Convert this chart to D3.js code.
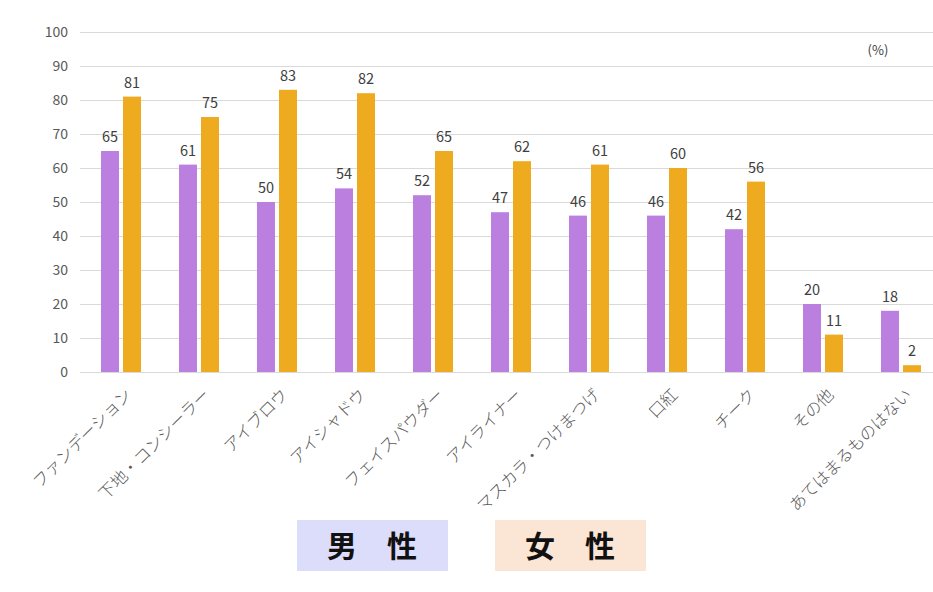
<!DOCTYPE html>
<html>
<head>
<meta charset="utf-8">
<script src="https://cdn.jsdelivr.net/npm/d3@7"></script>
<style>
  body { margin: 0; background: #fff; }
  svg { display: block; font-family: "Noto Sans CJK JP", "Noto Sans", sans-serif; }
</style>
</head>
<body>
<svg></svg>
<script>
// categories and values
const categories = ["ファンデーション", "下地・コンシーラー", "アイブロウ", "アイシャドウ", "フェイスパウダー",
    "アイライナー", "マスカラ・つけまつげ", "口紅", "チーク", "その他", "あてはまるものはない"];
const maleValues = [65, 61, 50, 54, 52, 47, 46, 46, 42, 20, 18];
const femaleValues = [81, 75, 83, 82, 65, 62, 61, 60, 56, 11, 2];
const yTicks = [0, 10, 20, 30, 40, 50, 60, 70, 80, 90, 100];
const legendLabels = ["男　性", "女　性"];

function main() {
    const canvasWidth = 933;
    const canvasHeight = 592;
    // plot area
    const left = 82, right = 940;
    const top = 32, bottom = 372;

    const maleColor = "#BB80DF";
    const femaleColor = "#EFAB1F";

    let svg = d3.select("svg")
        .attr("width", canvasWidth)
        .attr("height", canvasHeight);

    let xScale = d3.scaleBand()
        .domain(categories)
        .range([left, right]);

    let yScale = d3.scaleLinear()
        .domain([0, 100])
        .range([bottom, top]);

    // gridlines
    svg.append("g")
        .selectAll("line")
        .data(yTicks)
        .join("line")
        .attr("x1", 80)
        .attr("x2", canvasWidth)
        .attr("y1", d => yScale(d) + 0.5)
        .attr("y2", d => yScale(d) + 0.5)
        .attr("stroke", "#d9d9d9")
        .attr("stroke-width", 1);

    // y axis labels
    svg.append("g")
        .selectAll("text")
        .data(yTicks)
        .join("text")
        .text(d => d)
        .attr("x", 68)
        .attr("y", d => yScale(d))
        .attr("dy", "0.36em")
        .attr("text-anchor", "end")
        .attr("font-size", 14)
        .attr("fill", "#595959");

    const barW = 18;
    const gap = 4;

    let groups = svg.append("g")
        .selectAll("g")
        .data(categories)
        .join("g")
        .attr("transform", d => `translate(${xScale(d) + xScale.bandwidth() / 2}, 0)`);

    // male bars
    groups.append("rect")
        .attr("x", -gap / 2 - barW)
        .attr("width", barW)
        .attr("y", (d, i) => yScale(maleValues[i]))
        .attr("height", (d, i) => yScale(0) - yScale(maleValues[i]))
        .attr("fill", maleColor);

    // female bars
    groups.append("rect")
        .attr("x", gap / 2)
        .attr("width", barW)
        .attr("y", (d, i) => yScale(femaleValues[i]))
        .attr("height", (d, i) => yScale(0) - yScale(femaleValues[i]))
        .attr("fill", femaleColor);

    // value labels
    groups.append("text")
        .text((d, i) => maleValues[i])
        .attr("x", -gap / 2 - barW / 2)
        .attr("y", (d, i) => yScale(maleValues[i]) - 9)
        .attr("text-anchor", "middle")
        .attr("font-size", 14.5)
        .attr("fill", "#404040");
    groups.append("text")
        .text((d, i) => femaleValues[i])
        .attr("x", gap / 2 + barW / 2)
        .attr("y", (d, i) => yScale(femaleValues[i]) - 9)
        .attr("text-anchor", "middle")
        .attr("font-size", 14.5)
        .attr("fill", "#404040");

    // category labels, rotated
    groups.append("text")
        .text(d => d)
        .attr("transform", "translate(3, 387) rotate(-45)")
        .attr("text-anchor", "end")
        .attr("dy", "0.75em")
        .attr("font-size", 16.5)
        .attr("font-weight", 300)
        .attr("fill", "#595959");

    // unit
    svg.append("text")
        .text("(%)")
        .attr("x", 878)
        .attr("y", 55)
        .attr("text-anchor", "middle")
        .attr("font-size", 13)
        .attr("fill", "#404040");

    // legend boxes
    const legendX = [297, 495];
    const legendFill = ["#DCDCFB", "#FBE5D5"];
    let legend = svg.append("g")
        .selectAll("g")
        .data(legendLabels)
        .join("g")
        .attr("transform", (d, i) => `translate(${legendX[i]}, 520)`);
    legend.append("rect")
        .attr("width", 151)
        .attr("height", 51)
        .attr("fill", (d, i) => legendFill[i]);
    legend.append("text")
        .text(d => d)
        .attr("x", 75)
        .attr("y", 26)
        .attr("dy", "0.36em")
        .attr("text-anchor", "middle")
        .attr("font-size", 30)
        .attr("font-weight", 700)
        .attr("fill", "#111");
}

main();
</script>
</body>
</html>
